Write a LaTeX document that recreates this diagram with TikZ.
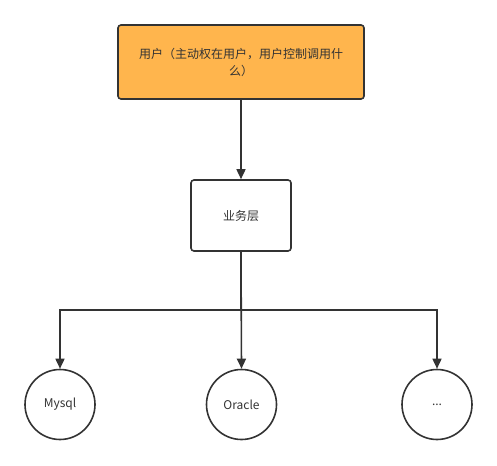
\documentclass[tikz,border=0pt]{standalone}
\usepackage{fontspec}
\setmainfont{Noto Sans CJK SC}
\usetikzlibrary{arrows.meta}
\definecolor{boxorange}{HTML}{FFB54D}
\definecolor{linegray}{HTML}{333333}
\tikzset{
  every node/.style={font=\fontsize{12}{17}\selectfont, text=linegray},
  rbox/.style={draw=linegray, line width=1.6pt, rounded corners=3pt, align=center, inner sep=0pt},
  dbcircle/.style={draw=linegray, line width=1.6pt, circle, minimum size=70pt, inner sep=0pt},
  conn/.style={draw=linegray, line width=1.6pt, -{Triangle[length=10pt,width=9pt]}},
}
\begin{document}
\begin{tikzpicture}[x=1pt,y=-1pt]
\useasboundingbox (0,0) rectangle (497,465);
\node[rbox, fill=boxorange, minimum width=246pt, minimum height=74pt] (user) at (241,62) {用户（主动权在用户，用户控制调用什\\么）};
\node[rbox, fill=white, minimum width=100pt, minimum height=71pt] (biz) at (241,215.5) {业务层};
\node[dbcircle] (mysql) at (60,404.5) {Mysql};
\node[dbcircle] (oracle) at (241.5,404.5) {Oracle};
\node[dbcircle] (etc) at (437,404.5) {...};
\coordinate (split) at (241,310);
\draw[conn] (user.south) -- (biz.north);
\draw[conn] (biz.south) -- (split) -| (mysql.north);
\draw[conn] (biz.south) -- (oracle.north);
\draw[conn] (biz.south) -- (split) -| (etc.north);
\end{tikzpicture}
\end{document}
